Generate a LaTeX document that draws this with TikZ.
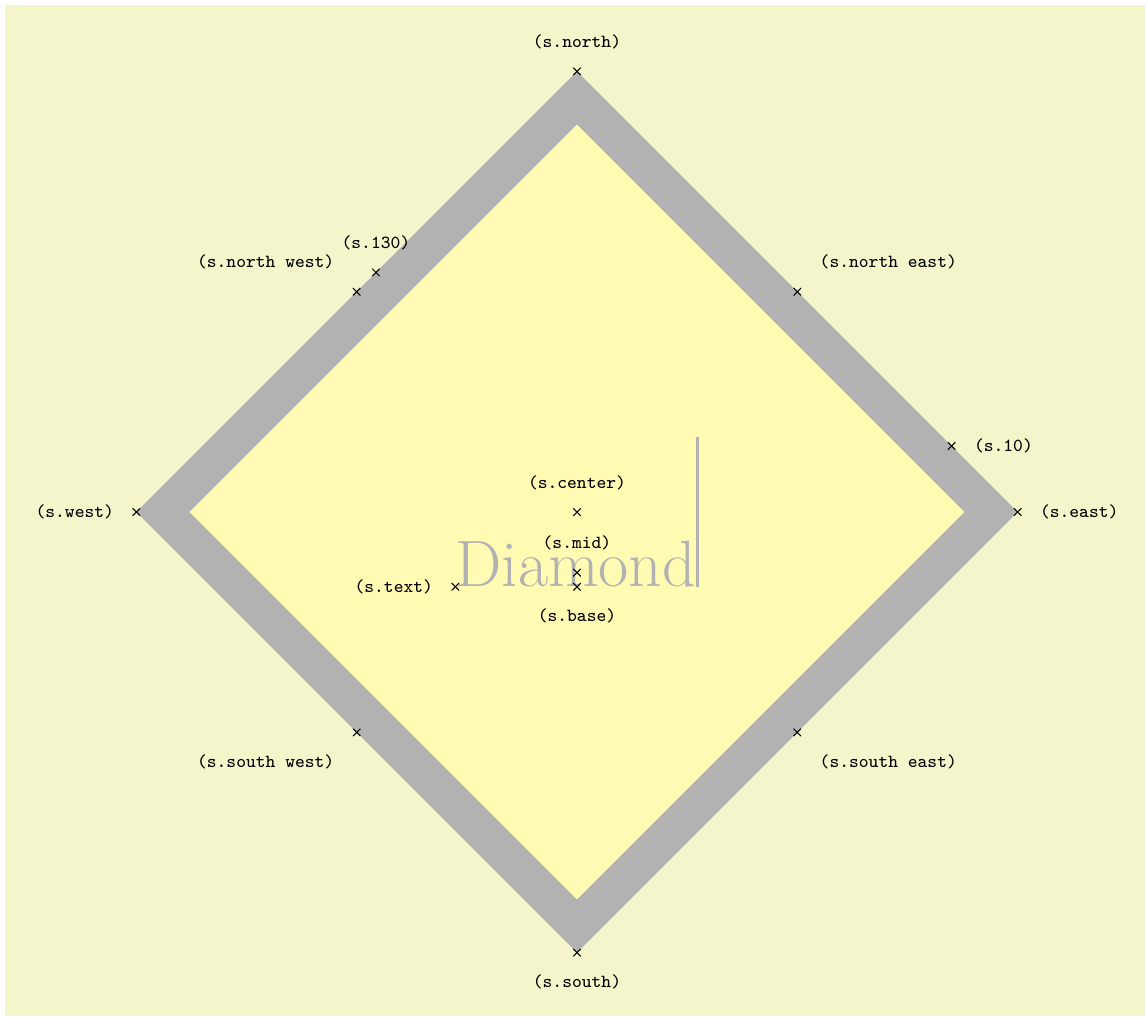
\documentclass[tikz,border=0pt]{standalone}
\usetikzlibrary{shapes.geometric}
\definecolor{graphicbackground}{rgb}{0.96,0.96,0.8}

\begin{document}
\Huge
\begin{tikzpicture}[
  shape example/.style={color=black!30, draw, fill=yellow!30,
                        line width=.5cm, inner xsep=2.5cm, inner ysep=0.5cm}
]
\useasboundingbox (-7.693,-6.72) rectangle (7.573,6.827);
\fill[graphicbackground] (-7.627,-6.72) rectangle (7.573,6.76);
\node[name=s, shape=diamond, shape example] {Diamond\vrule width 1pt height 2cm};
\foreach \anchor/\placement in
  {text/left, center/above, 130/above, 10/right, north/above, south/below,
   east/right, west/left, north east/above right, south west/below left,
   south east/below right, north west/above left, mid/above, base/below}
  \draw[shift=(s.\anchor)] plot[mark=x] coordinates{(0,0)}
    node[\placement] (l-\anchor) {\scriptsize\texttt{(s.\anchor)}};
\end{tikzpicture}
\end{document}
